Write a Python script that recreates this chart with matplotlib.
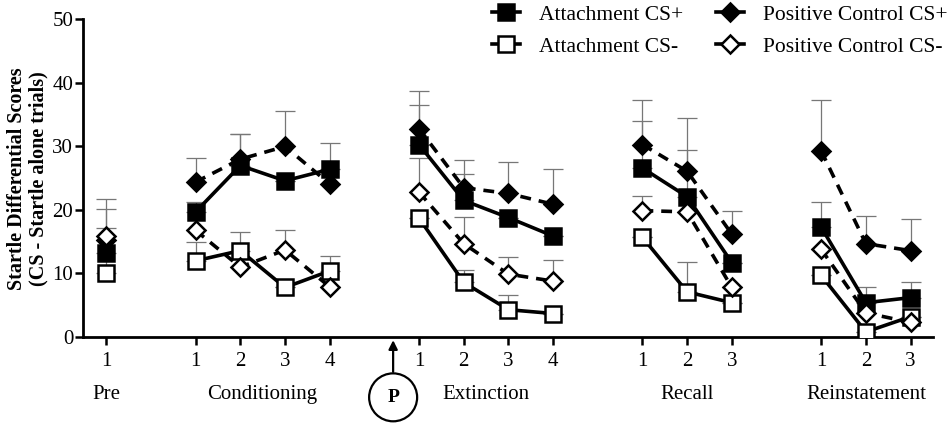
import numpy as np
import matplotlib
matplotlib.use('Agg')
from matplotlib import pyplot as plt
from matplotlib.patches import Ellipse

plt.rcParams['font.family'] = ['Liberation Serif', 'DejaVu Serif']

# x positions for each phase (trial index on a shared axis)
phases = ['Pre', 'Conditioning', 'Extinction', 'Recall', 'Reinstatement']
phase_x = [[-2], [0, 1, 2, 3], [5, 6, 7, 8], [10, 11, 12], [14, 15, 16]]
phase_ticks = [['1'], ['1', '2', '3', '4'], ['1', '2', '3', '4'], ['1', '2', '3'], ['1', '2', '3']]

# means per phase
att_plus = [[13.2], [19.7, 27.0, 24.6, 26.4], [30.3, 21.5, 18.8, 15.9], [26.6, 22.1, 11.7], [17.3, 5.4, 6.2]]
att_minus = [[10.0], [12.0, 13.6, 7.8, 10.4], [18.7, 8.6, 4.3, 3.7], [15.7, 7.1, 5.4], [9.7, 0.8, 3.2]]
pc_plus = [[15.2], [24.4, 28.0, 30.0, 24.1], [32.8, 23.5, 22.6, 20.9], [30.3, 26.1, 16.2], [29.3, 14.7, 13.6]]
pc_minus = [[15.9], [16.8, 11.0, 13.7, 7.9], [22.8, 14.7, 9.9, 8.8], [19.9, 19.7, 7.8], [13.8, 3.8, 2.3]]

# upper error (SEM)
att_plus_err = [[6.9], [1.5, 5.0, 0.0, 4.1], [6.3, 4.1, 0.0, 0.0], [7.4, 7.4, 0.0], [4.0, 2.5, 2.5]]
att_minus_err = [[7.2], [2.9, 2.9, 0.0, 2.3], [0.0, 2.0, 2.3, 0.0], [0.0, 4.7, 0.0], [0.0, 0.0, 0.0]]
pc_plus_err = [[0.0], [3.8, 4.0, 5.6, 0.0], [6.0, 4.3, 5.0, 5.5], [7.0, 8.4, 3.6], [8.0, 4.4, 5.0]]
pc_minus_err = [[5.8], [0.0, 0.0, 3.2, 0.0], [5.4, 4.2, 2.7, 3.4], [2.3, 0.0, 0.0], [0.0, 0.0, 0.0]]

series = [
    ('Attachment CS+', att_plus, att_plus_err, 's', 'black', '-'),
    ('Attachment CS-', att_minus, att_minus_err, 's', 'white', '-'),
    ('Positive Control CS+', pc_plus, pc_plus_err, 'D', 'black', '--'),
    ('Positive Control CS-', pc_minus, pc_minus_err, 'D', 'white', '--'),
]

fig = plt.figure(figsize=(9.5, 4.23), dpi=100)
ax = fig.add_axes([0.0874, 0.2033, 0.8946, 0.7507])

handles = []
for order, (name, vals, errs, mk, fc, ls) in enumerate(series):
    ms = 11 if mk == 's' else 9
    for i, xs in enumerate(phase_x):
        ax.errorbar(xs, vals[i], yerr=[np.zeros(len(xs)), errs[i]], fmt='none',
                    ecolor='#777777', elinewidth=0.9, capsize=7, capthick=0.9, zorder=1)
        ax.plot(xs, vals[i], linestyle=ls, color='black', linewidth=2.6,
                marker=mk, markersize=ms, markerfacecolor=fc,
                markeredgecolor='black', markeredgewidth=1.8,
                dashes=(3, 2.2) if ls == '--' else (None, None), zorder=3 + order)
    # legend handle: short solid line with marker
    h, = ax.plot([], [], linestyle='-', color='black', linewidth=2.6, marker=mk,
                 markersize=ms, markerfacecolor=fc, markeredgecolor='black',
                 markeredgewidth=1.8, label=name)
    handles.append(h)

ax.set_xlim(-2.52, 16.5)
ax.set_ylim(0, 50)
ax.set_yticks([0, 10, 20, 30, 40, 50])
all_x = [x for xs in phase_x for x in xs]
all_lab = [t for ts in phase_ticks for t in ts]
ax.set_xticks(all_x)
ax.set_xticklabels(all_lab)
ax.tick_params(axis='both', labelsize=15, width=1.8, length=6, direction='out')
ax.tick_params(axis='x', pad=5)
ax.tick_params(axis='y', pad=1)
for s in ['top', 'right']:
    ax.spines[s].set_visible(False)
for s in ['left', 'bottom']:
    ax.spines[s].set_linewidth(2)

ax.set_ylabel('Startle Differential Scores\n(CS - Startle alone trials)',
              fontsize=14.5, fontweight='bold', labelpad=3, linespacing=1.1)

# phase names under the tick labels
for name, xs in zip(phases, phase_x):
    ax.text(np.mean(xs), -9.0, name, ha='center', va='center', fontsize=15,
            transform=ax.transData, clip_on=False)

# "P" marker with arrow pointing to the axis
px = 4.42
ax.annotate('', xy=(px, -0.5), xytext=(px, -5.5),
            arrowprops=dict(arrowstyle='-|>', color='black', lw=1.6, mutation_scale=13,
                            shrinkA=0, shrinkB=0),
            annotation_clip=False)
ax.add_patch(Ellipse((px, -9.5), width=24 * 2 / 44.67, height=24 * 2 / 6.36,
                     facecolor='white', edgecolor='black', linewidth=1.6, clip_on=False))
ax.text(px, -9.5, 'P', ha='center', va='center', fontsize=14, fontweight='bold',
        clip_on=False)

fig.legend(handles=handles, ncol=2, loc='upper right', bbox_to_anchor=(1.018, 1.035),
           frameon=False, fontsize=15.5, handlelength=1.3, handletextpad=0.9,
           columnspacing=1.5, labelspacing=0.55)

fig.savefig('out.png', dpi=100)
